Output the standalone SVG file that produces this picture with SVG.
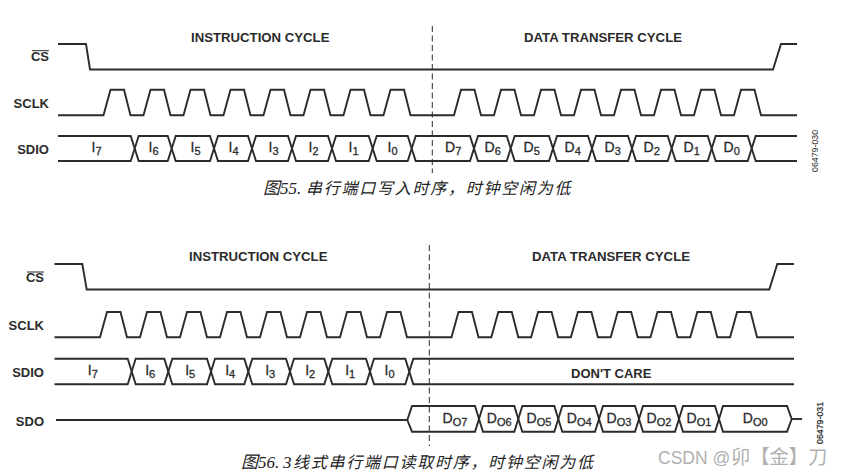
<svg xmlns="http://www.w3.org/2000/svg" width="842" height="476" viewBox="0 0 842 476">
<style>
.w{fill:none;stroke:#2b2b2b;stroke-width:1.9;stroke-linejoin:miter}
.d{fill:none;stroke:#2b2b2b;stroke-width:1;stroke-dasharray:6 3.5}
.o{fill:none;stroke:#2b2b2b;stroke-width:1}
text{font-family:"Liberation Sans",Arial,sans-serif;fill:#2b2b2b}
.h{font-size:13.2px;font-weight:bold}
.l{font-size:13px;font-weight:bold;text-anchor:end}
.c{font-size:14px;stroke:#2b2b2b;stroke-width:.3px}
.s{font-size:11px}
.cap{font-family:"Liberation Serif","Noto Sans CJK SC",serif;font-style:italic;font-size:17px;fill:#222}
.zh{font-family:"Noto Sans CJK SC",serif;font-size:16px;letter-spacing:1.75px}
.n{font-size:8.8px}
.b{stroke:#2b2b2b;stroke-width:.25px}
</style>
<rect width="842" height="476" fill="#fff"/>
<g id="fig55">
<g id="fig55-labels">
<text class="h" x="191" y="42">INSTRUCTION CYCLE</text>
<text class="h" x="524" y="42">DATA TRANSFER CYCLE</text>
<text class="l" x="49" y="61">CS</text>
<path class="o" d="M32 50.7H49"/>
<text class="l" x="49" y="108">SCLK</text>
<text class="l" x="49" y="154">SDIO</text>
</g>
<g id="fig55-cs"><path class="w" d="M58 44H86L90 69.5H773L781 44H797"/></g>
<g id="fig55-sclk"><path class="w" d="M58 115.3H103.5l7-25.6h13.5l6.5 25.6H143.5l7-25.6h13.5l6.5 25.6H183.5l7-25.6h13.5l6.5 25.6H223.5l7-25.6h13.5l6.5 25.6H263.5l7-25.6h13.5l6.5 25.6H303.5l7-25.6h13.5l6.5 25.6H343.5l7-25.6h13.5l6.5 25.6H383.5l7-25.6h13.5l6.5 25.6H454l7-25.6h13.5l6.5 25.6H494l7-25.6h13.5l6.5 25.6H534l7-25.6h13.5l6.5 25.6H574l7-25.6h13.5l6.5 25.6H614l7-25.6h13.5l6.5 25.6H654l7-25.6h13.5l6.5 25.6H694l7-25.6h13.5l6.5 25.6H734l7-25.6h13.5l6.5 25.6H797"/></g>
<g id="fig55-sdio">
<path class="w" d="M58 136H130.7L134.7 148.5L130.7 161H58"/>
<path class="w" d="M134.7 148.5L138.7 136H167.7L171.7 148.5L167.7 161H138.7Z"/>
<path class="w" d="M171.7 148.5L175.7 136H210L214 148.5L210 161H175.7Z"/>
<path class="w" d="M214 148.5L218 136H248L252 148.5L248 161H218Z"/>
<path class="w" d="M252 148.5L256 136H288L292 148.5L288 161H256Z"/>
<path class="w" d="M292 148.5L296 136H328L332 148.5L328 161H296Z"/>
<path class="w" d="M332 148.5L336 136H368.7L372.7 148.5L368.7 161H336Z"/>
<path class="w" d="M372.7 148.5L376.7 136H407.7L411.7 148.5L407.7 161H376.7Z"/>
<path class="w" d="M411.7 148.5L415.7 136H470L474 148.5L470 161H415.7Z"/>
<path class="w" d="M474 148.5L478 136H506.7L510.7 148.5L506.7 161H478Z"/>
<path class="w" d="M510.7 148.5L514.7 136H549L553 148.5L549 161H514.7Z"/>
<path class="w" d="M553 148.5L557 136H588L592 148.5L588 161H557Z"/>
<path class="w" d="M592 148.5L596 136H628L632 148.5L628 161H596Z"/>
<path class="w" d="M632 148.5L636 136H667.7L671.7 148.5L667.7 161H636Z"/>
<path class="w" d="M671.7 148.5L675.7 136H707.7L711.7 148.5L707.7 161H675.7Z"/>
<path class="w" d="M711.7 148.5L715.7 136H747.7L751.7 148.5L747.7 161H715.7Z"/>
<path class="w" d="M797 136H755.7L751.7 148.5L755.7 161H797"/>
<text class="c" x="91.5" y="152">I<tspan class="s" dy="3">7</tspan></text>
<text class="c" x="148.5" y="152">I<tspan class="s" dy="3">6</tspan></text>
<text class="c" x="190.5" y="152">I<tspan class="s" dy="3">5</tspan></text>
<text class="c" x="228.5" y="152">I<tspan class="s" dy="3">4</tspan></text>
<text class="c" x="268.5" y="152">I<tspan class="s" dy="3">3</tspan></text>
<text class="c" x="308.5" y="152">I<tspan class="s" dy="3">2</tspan></text>
<text class="c" x="348.5" y="152">I<tspan class="s" dy="3">1</tspan></text>
<text class="c" x="387.5" y="152">I<tspan class="s" dy="3">0</tspan></text>
<text class="c" x="445" y="152">D<tspan class="s" dy="3">7</tspan></text>
<text class="c" x="484.5" y="152">D<tspan class="s" dy="3">6</tspan></text>
<text class="c" x="523.5" y="152">D<tspan class="s" dy="3">5</tspan></text>
<text class="c" x="564.5" y="152">D<tspan class="s" dy="3">4</tspan></text>
<text class="c" x="604.5" y="152">D<tspan class="s" dy="3">3</tspan></text>
<text class="c" x="643.5" y="152">D<tspan class="s" dy="3">2</tspan></text>
<text class="c" x="683.5" y="152">D<tspan class="s" dy="3">1</tspan></text>
<text class="c" x="723.5" y="152">D<tspan class="s" dy="3">0</tspan></text>
</g>
<path class="d" d="M432.3 26V173"/>
<text class="n" transform="translate(818 172) rotate(-90)">06479-030</text>
<text class="cap" x="263" y="194">图55.</text>
<text class="cap zh" x="306" y="194">串行端口写入时序，时钟空闲为低</text>
</g>
<g id="fig56">
<g id="fig56-labels">
<text class="h" x="189" y="261">INSTRUCTION CYCLE</text>
<text class="h" x="532" y="261">DATA TRANSFER CYCLE</text>
<text class="l" x="44" y="282">CS</text>
<path class="o" d="M27 272H44"/>
<text class="l" x="44" y="330">SCLK</text>
<text class="l" x="44" y="377">SDIO</text>
<text class="l" x="44" y="426">SDO</text>
</g>
<g id="fig56-cs"><path class="w" d="M54.5 264H82.3L86.7 289.5H769.3L777.3 264H794"/></g>
<g id="fig56-sclk"><path class="w" d="M54.5 337.3H100l7-25.3h13.5l6.5 25.3H140l7-25.3h13.5l6.5 25.3H180l7-25.3h13.5l6.5 25.3H220l7-25.3h13.5l6.5 25.3H260l7-25.3h13.5l6.5 25.3H300l7-25.3h13.5l6.5 25.3H340l7-25.3h13.5l6.5 25.3H380l7-25.3h13.5l6.5 25.3H451.5l7-25.3h13.5l6.5 25.3H491.3l7-25.3h13.5l6.5 25.3H531.1l7-25.3h13.5l6.5 25.3H570.9l7-25.3h13.5l6.5 25.3H610.7l7-25.3h13.5l6.5 25.3H650.5l7-25.3h13.5l6.5 25.3H690.3l7-25.3h13.5l6.5 25.3H730.1l7-25.3h13.5l6.5 25.3H794"/></g>
<g id="fig56-sdio">
<path class="w" d="M54.5 358.7H127.7L131.7 371.5L127.7 384.3H54.5"/>
<path class="w" d="M131.7 371.5L135.7 358.7H164.3L168.3 371.5L164.3 384.3H135.7Z"/>
<path class="w" d="M168.3 371.5L172.3 358.7H207L211 371.5L207 384.3H172.3Z"/>
<path class="w" d="M211 371.5L215 358.7H244.3L248.3 371.5L244.3 384.3H215Z"/>
<path class="w" d="M248.3 371.5L252.3 358.7H286L290 371.5L286 384.3H252.3Z"/>
<path class="w" d="M290 371.5L294 358.7H324.3L328.3 371.5L324.3 384.3H294Z"/>
<path class="w" d="M328.3 371.5L332.3 358.7H366L370 371.5L366 384.3H332.3Z"/>
<path class="w" d="M370 371.5L374 358.7H405.3L409.3 371.5L405.3 384.3H374Z"/>
<path class="w" d="M794 358.7H413.3L409.3 371.5L413.3 384.3H794"/>
<text class="c" x="87.8" y="375">I<tspan class="s" dy="3">7</tspan></text>
<text class="c" x="145.2" y="375">I<tspan class="s" dy="3">6</tspan></text>
<text class="c" x="185.2" y="375">I<tspan class="s" dy="3">5</tspan></text>
<text class="c" x="225.2" y="375">I<tspan class="s" dy="3">4</tspan></text>
<text class="c" x="265.2" y="375">I<tspan class="s" dy="3">3</tspan></text>
<text class="c" x="305.2" y="375">I<tspan class="s" dy="3">2</tspan></text>
<text class="c" x="345.2" y="375">I<tspan class="s" dy="3">1</tspan></text>
<text class="c" x="384.5" y="375">I<tspan class="s" dy="3">0</tspan></text>
<text class="h" x="571" y="377.7" style="font-size:13px">DON'T CARE</text>
</g>
<g id="fig56-sdo">
<path class="w" d="M56 420H407.3L412 406H475L479 419L475 431.7H412L407.3 420"/>
<path class="w" d="M479 419L483 406H514.3L518.3 419L514.3 431.7H483Z"/>
<path class="w" d="M518.3 419L522.3 406H554.3L558.3 419L554.3 431.7H522.3Z"/>
<path class="w" d="M558.3 419L562.3 406H595L599 419L595 431.7H562.3Z"/>
<path class="w" d="M599 419L603 406H635L639 419L635 431.7H603Z"/>
<path class="w" d="M639 419L643 406H675L679 419L675 431.7H643Z"/>
<path class="w" d="M679 419L683 406H715L719 419L715 431.7H683Z"/>
<path class="w" d="M719 419L723 406H787L791.7 419L787 431.7H723Z"/>
<path class="w" d="M791.7 419H802"/>
<text class="c" x="442.5" y="423">D<tspan class="s" dy="3">O7</tspan></text>
<text class="c" x="486.8" y="423">D<tspan class="s" dy="3">O6</tspan></text>
<text class="c" x="526.5" y="423">D<tspan class="s" dy="3">O5</tspan></text>
<text class="c" x="566.8" y="423">D<tspan class="s" dy="3">O4</tspan></text>
<text class="c" x="606.5" y="423">D<tspan class="s" dy="3">O3</tspan></text>
<text class="c" x="646.5" y="423">D<tspan class="s" dy="3">O2</tspan></text>
<text class="c" x="686.5" y="423">D<tspan class="s" dy="3">O1</tspan></text>
<text class="c" x="742.8" y="423">D<tspan class="s" dy="3">O0</tspan></text>
</g>
<path class="d" d="M429.3 245V446"/>
<text class="n b" transform="translate(823 444) rotate(-90)">06479-031</text>
<text class="cap" x="241" y="468">图56.</text>
<text class="cap" x="283" y="468">3</text>
<text class="cap zh" x="293" y="468">线式串行端口读取时序，时钟空闲为低</text>
</g>
<text id="watermark" x="658" y="464" style="font-family:'Liberation Sans','Noto Sans CJK SC',sans-serif;font-size:17.5px;fill:#b0b0b0">CSDN @<tspan x="731" style="font-size:19.3px">卯【金】刀</tspan></text>
</svg>
